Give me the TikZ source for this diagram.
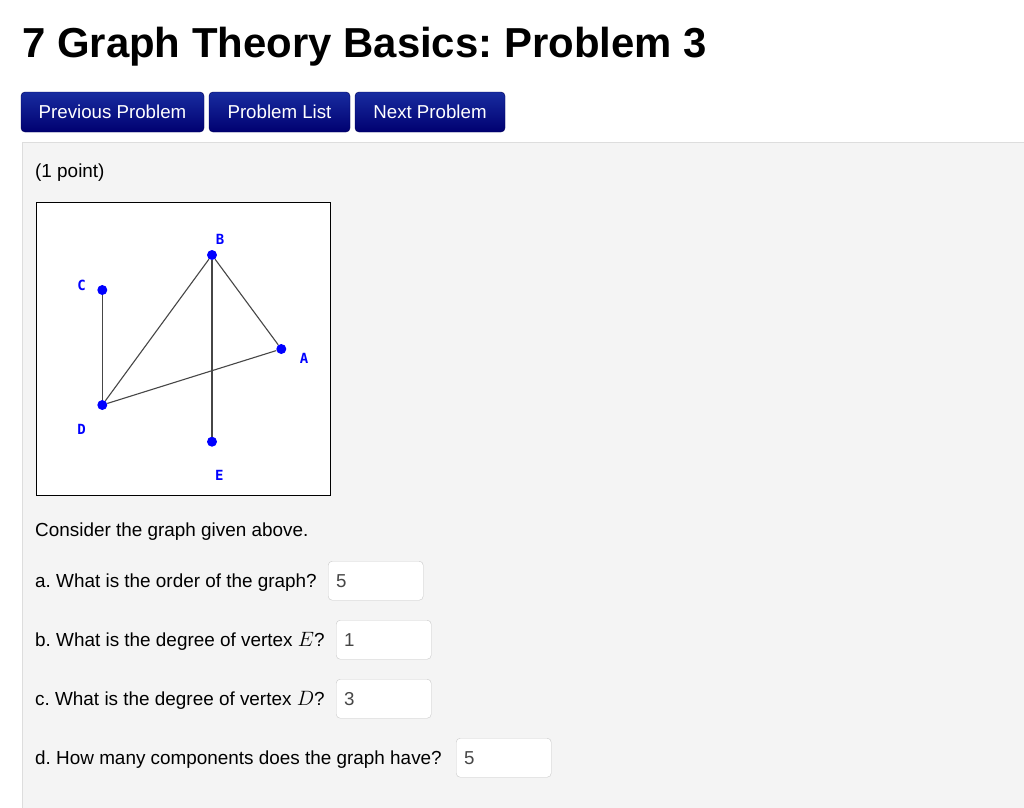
\documentclass[tikz,border=0pt]{standalone}
\usepackage{fontspec}
\setmainfont{Liberation Sans}
\newfontfamily\lblfont[BoldFont={DejaVu Sans Mono Bold}]{DejaVu Sans Mono}
\definecolor{btntop}{RGB}{24,44,160}
\definecolor{btnbot}{RGB}{0,0,112}
\definecolor{btnborder}{RGB}{0,0,90}
\definecolor{panel}{RGB}{244,244,244}
\definecolor{panelborder}{RGB}{221,221,221}
\definecolor{inborder}{RGB}{200,200,200}
\definecolor{intext}{RGB}{70,70,70}
\definecolor{vblue}{RGB}{0,0,255}
\definecolor{edgegray}{RGB}{70,70,70}
\newcommand{\mathbig}[1]{{\fontsize{21}{24}\selectfont$#1$}}
\tikzset{
  body/.style={anchor=base west, inner sep=0pt, font=\fontsize{18.9}{22}\selectfont\frenchspacing, text=black},
  btn/.style={rounded corners=4pt, draw=btnborder, top color=btntop, bottom color=btnbot,
    minimum height=40pt, inner sep=0pt, text=white, font=\fontsize{18.7}{22}\selectfont},
  inbox/.style={draw=inborder, fill=white, rounded corners=4pt, minimum width=95pt, minimum height=39pt, inner sep=0pt, anchor=north west},
  inval/.style={anchor=base west, inner sep=0pt, text=intext, font=\fontsize{18.7}{22}\selectfont},
  vert/.style={circle, fill=vblue, minimum size=10pt, inner sep=0pt},
  vlabel/.style={text=vblue, inner sep=0pt, font=\lblfont\bfseries\fontsize{14}{15}\selectfont},
  edge/.style={draw=edgegray, line width=1.1pt}
}
\begin{document}
\begin{tikzpicture}[x=1pt,y=-1pt]
\useasboundingbox (0,0) rectangle (1024,807);
\fill[white] (0,0) rectangle (1024,807);
% title
\node[anchor=base west, inner sep=0pt, font=\bfseries\fontsize{41.9}{46}\selectfont\frenchspacing] (title) at (22,57) {7 Graph Theory Basics: Problem 3};
% buttons
\node[btn, minimum width=183pt] (prev) at (112.5,112) {Previous Problem};
\node[btn, minimum width=141pt] (list) at (279.5,112) {Problem List};
\node[btn, minimum width=150pt] (next) at (430,112) {Next Problem};
% panel
\fill[panel] (22,142) rectangle (1030,812);
\draw[panelborder, line width=1pt] (22,812) -- (22,142) -- (1030,142);
\node[body] (pts) at (35,177) {(1 point)};
% graph image
\node[draw=black, fill=white, line width=1pt, minimum width=294pt, minimum height=293pt, inner sep=0pt, anchor=north west] (img) at (35.5,201.5) {};
\node[vert] (B) at (212,255) {};
\node[vert] (C) at (102.3,290) {};
\node[vert] (A) at (281.3,349) {};
\node[vert] (D) at (102.3,405) {};
\node[vert] (E) at (212,441.7) {};
\draw[edge] (C) -- (D);
\draw[edge] (B) -- (D);
\draw[edge] (B) -- (A);
\draw[edge] (A) -- (D);
\draw[edge] (B) -- (E);
\node[vlabel] (lB) at (220,239.3) {B};
\node[vlabel] (lC) at (81.7,285.7) {C};
\node[vlabel] (lA) at (304,358.3) {A};
\node[vlabel] (lD) at (81.7,429.3) {D};
\node[vlabel] (lE) at (219.3,475.7) {E};
% questions
\node[body] (consider) at (35,536) {Consider the graph given above.};
\node[body] (qa) at (35,587) {a. What is the order of the graph?};
\node[inbox] (ba) at (328,561) {};
\node[inval] (va) at (336,587) {5};
\node[body] (qb) at (35,646) {b. What is the degree of vertex \mathbig{E}?};
\node[inbox] (bb) at (336,620) {};
\node[inval] (vb) at (344,646) {1};
\node[body] (qc) at (35,705) {c. What is the degree of vertex \mathbig{D}?};
\node[inbox] (bc) at (336,679) {};
\node[inval] (vc) at (344,705) {3};
\node[body] (qd) at (35,764) {d. How many components does the graph have?};
\node[inbox] (bd) at (456,738) {};
\node[inval] (vd) at (464,764) {5};
\end{tikzpicture}
\end{document}
